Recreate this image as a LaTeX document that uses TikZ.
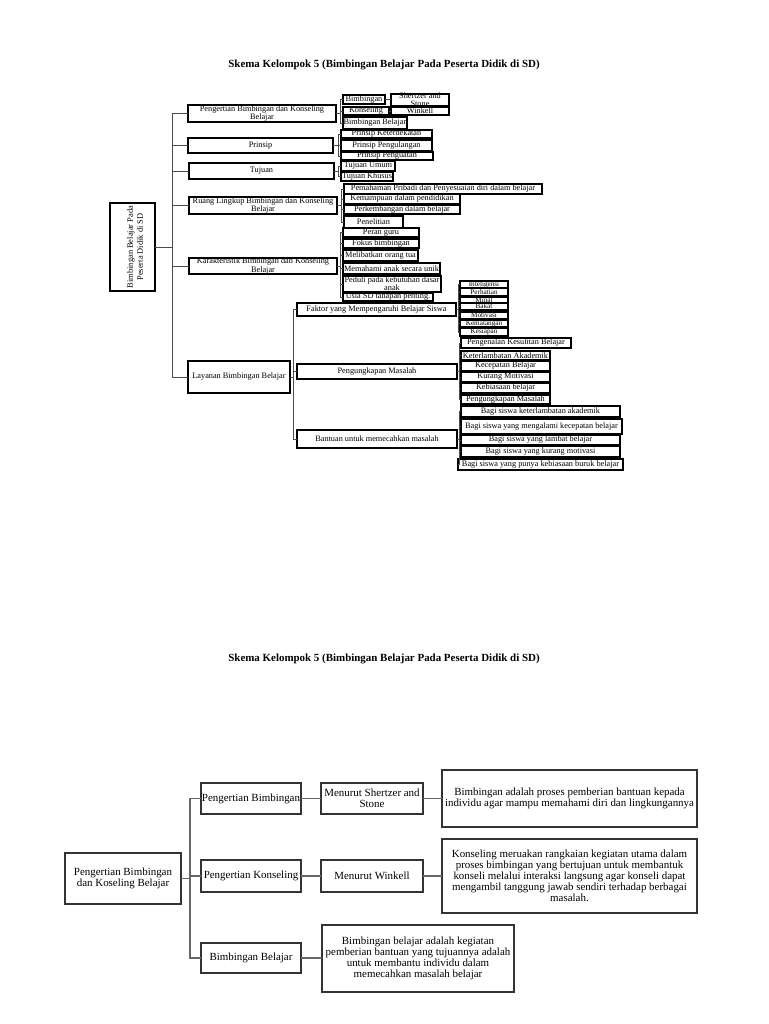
\documentclass[tikz,border=0pt]{standalone}
\usepackage{fontspec}
\setmainfont{Liberation Serif}
\tikzset{
  bxs/.style={draw=black, line width=0.8pt, inner sep=0pt, outer sep=0pt, rectangle},
  txs/.style={inner sep=0pt, align=center, font=\fontsize{6.2}{6.2}\selectfont},
  smalltx/.style={font=\fontsize{5.4}{5.4}\selectfont},
  conn/.style={draw=black!70, line width=0.7pt},
  bigbox/.style={draw=black!80, line width=1pt, inner sep=0pt, outer sep=0pt, rectangle},
  bigtxt/.style={inner sep=0pt, align=center, font=\fontsize{8.2}{8.3}\selectfont},
  bigconn/.style={draw=black!60, line width=0.9pt},
  ttl/.style={inner sep=0pt, font=\fontsize{8.2}{9}\selectfont\bfseries}
}
\newcommand{\mkTop}[7][]{%
  \pgfmathsetmacro{\myW}{(#5-#3)*0.75}%
  \pgfmathsetmacro{\myH}{(#6-#4)*0.75}%
  \node[bxs, minimum width=\myW pt, minimum height=\myH pt] (#2) at ({(#3+#5)/2},{(#4+#6)/2}) {};%
  \node[txs,#1] (#2t) at (#2.center) {#7};%
}
\newcommand{\mkBot}[7][]{%
  \pgfmathsetmacro{\myW}{(#5-#3)*0.75}%
  \pgfmathsetmacro{\myH}{(#6-#4)*0.75}%
  \node[bigbox, minimum width=\myW pt, minimum height=\myH pt] (#2) at ({(#3+#5)/2},{(#4+#6)/2}) {};%
  \node[bigtxt,#1] (#2t) at (#2.center) {#7};%
}
\begin{document}
\begin{tikzpicture}[x=0.75pt, y=-0.75pt]
\fill[white] (0,0) rectangle (768,1024);
\useasboundingbox (0,0) rectangle (768,1024);

% ---------------- titles ----------------
\node[ttl] (title1) at (384,65) {Skema Kelompok 5 (Bimbingan Belajar Pada Peserta Didik di SD)};
\node[ttl] (title2) at (384,659) {Skema Kelompok 5 (Bimbingan Belajar Pada Peserta Didik di SD)};

% ---------------- top diagram ----------------
\node[bxs, minimum width=33.75pt, minimum height=66pt] (r) at (132.5,247) {};
\node[txs, rotate=90, font=\fontsize{6.3}{7.6}\selectfont] (rt) at (135,247) {Bimbingan Belajar Pada\\Peserta Didik di SD};

\mkTop{a1}{188}{105}{336}{122}{Pengertian Bimbingan dan Konseling\\Belajar}
\mkTop{a2}{188}{138}{333}{153}{Prinsip}
\mkTop{a3}{189}{163}{334}{179}{Tujuan}
\mkTop{a4}{189}{197}{337}{214}{Ruang Lingkup Bimbingan dan Konseling\\Belajar}
\mkTop{a5}{189}{258}{337}{274}{Karakteristik Bimbingan dan Konseling\\Belajar}
\mkTop{a6}{188}{361}{290}{393}{Layanan Bimbingan Belajar}

\coordinate (t0) at (172,247);
\draw[conn] (r.east) -- (t0);
\foreach \k in {a1,a2,a3,a4,a5,a6} {\draw[conn] (t0) |- (\k.west);}

% level 2 under a1
\mkTop{b1}{343}{95}{385}{104}{Bimbingan}
\mkTop{b2}{343}{107}{389}{115}{Konseling}
\mkTop{b3}{343}{117}{407}{129}{Bimbingan Belajar}
\mkTop{c1}{391}{94}{449}{106}{Shertzer and\\Stone}
\mkTop{c2}{391}{107}{449}{115}{Winkell}
\draw[conn] (a1.east) -- ++(4,0) coordinate (ka1);
\foreach \k in {b1,b2,b3} {\draw[conn] (ka1) |- (\k.west);}
\draw[conn] (b1.east) -- (b1.east -| c1.west);
\draw[conn] (b2.east) -- (b2.east -| c2.west);

% under a2
\mkTop{b4}{341}{130}{432}{138}{Prinsip Keterdekatan}
\mkTop{b5}{341}{140}{432}{151}{Prinsip Pengulangan}
\mkTop{b6}{341}{152}{433}{160}{Prinsip Penguatan}
\draw[conn] (a2.east) -- ++(5,0) coordinate (ka2);
\foreach \k in {b4,b5,b6} {\draw[conn] (ka2) |- (\k.west);}

% under a3
\mkTop{b7}{341}{161}{395}{171}{Tujuan Umum}
\mkTop{b8}{341}{172}{393}{181}{Tujuan Khusus}
\draw[conn] (a3.east) -- ++(4,0) coordinate (ka3);
\foreach \k in {b7,b8} {\draw[conn] (ka3) |- (\k.west);}

% under a4
\mkTop{b9}{344}{184}{542}{194}{Pemahaman Pribadi dan Penyesuaian diri dalam belajar}
\mkTop{b10}{344}{194}{460}{204}{Kemampuan dalam pendidikan}
\mkTop{b11}{344}{205}{460}{214}{Perkembangan dalam belajar}
\mkTop{b12}{344}{216}{403}{228}{Penelitian}
\draw[conn] (a4.east) -- ++(4,0) coordinate (ka4);
\foreach \k in {b9,b10,b11,b12} {\draw[conn] (ka4) |- (\k.west);}

% under a5
\mkTop{b13}{343}{228}{419}{237}{Peran guru}
\mkTop{b14}{343}{239}{419}{248}{Fokus bimbingan}
\mkTop{b15}{343}{250}{418}{261}{Melibatkan orang tua}
\mkTop{b16}{343}{263}{440}{274}{Memahami anak secara unik}
\mkTop{b17}{343}{276}{441}{292}{Peduli pada kebutuhan dasar\\anak}
\mkTop{b18}{343}{293}{433}{301}{Usia SD tahapan penting.}
\draw[conn] (a5.east) -- ++(3,0) coordinate (ka5);
\foreach \k in {b13,b14,b15,b16,b17,b18} {\draw[conn] (ka5) |- (\k.west);}

% under a6
\mkTop{b19}{297}{303}{456}{316}{Faktor yang Mempengaruhi Belajar Siswa}
\mkTop{b20}{297}{364}{457}{379}{Pengungkapan Masalah}
\mkTop{b21}{297}{430}{457}{448}{Bantuan untuk memecahkan masalah}
\draw[conn] (a6.east) -- ++(3,0) coordinate (ka6);
\foreach \k in {b19,b20,b21} {\draw[conn] (ka6) |- (\k.west);}

% under b19
\mkTop[smalltx]{c3}{460}{281}{508}{288}{Inteligensi}
\mkTop[smalltx]{c4}{460}{288.5}{508}{296}{Perhatian}
\mkTop[smalltx]{c5}{460}{297}{508}{303}{Minat}
\mkTop[smalltx]{c6}{460}{303}{508}{310}{Bakat}
\mkTop[smalltx]{c7}{460}{312}{508}{319}{Motivasi}
\mkTop[smalltx]{c8}{460}{320}{508}{327}{Kematangan}
\mkTop[smalltx]{c9}{460}{328}{508}{336}{Kesiapan}
\draw[conn] (b19.east) -- ++(2,0) coordinate (kb19);
\foreach \k in {c3,c4,c5,c6,c7,c8,c9} {\draw[conn] (kb19) |- (\k.west);}

% under b20
\mkTop{c10}{461}{338}{571}{348}{Pengenalan Kesulitan Belajar}
\mkTop{c11}{461}{351}{550}{360}{Keterlambatan Akademik}
\mkTop{c12}{461}{361}{550}{371}{Kecepatan Belajar}
\mkTop{c13}{461}{372}{550}{382}{Kurang Motivasi}
\mkTop{c14}{461}{383}{550}{393}{Kebiasaan belajar}
\mkTop{c15}{461}{395}{550}{404}{Pengungkapan Masalah}
\draw[conn] (b20.east) -- ++(2,0) coordinate (kb20);
\foreach \k in {c10,c11,c12,c13,c14,c15} {\draw[conn] (kb20) |- (\k.west);}

% under b21
\mkTop{c16}{461}{406}{620}{417}{Bagi siswa keterlambatan akademik}
\mkTop{c17}{461}{419}{622}{434}{Bagi siswa yang mengalami kecepatan belajar}
\mkTop{c18}{461}{435}{620}{445}{Bagi siswa yang lambat belajar}
\mkTop{c19}{461}{446}{620}{457}{Bagi siswa yang kurang motivasi}
\mkTop{c20}{458}{459}{623}{470}{Bagi siswa yang punya kebiasaan buruk belajar}
\draw[conn] (b21.east) -- ++(2,0) coordinate (kb21);
\foreach \k in {c16,c17,c18,c19,c20} {\draw[conn] (kb21) |- (\k.west);}

% ---------------- bottom diagram ----------------
\mkBot{R2}{65}{853}{181}{904}{Pengertian Bimbingan\\dan Koseling Belajar}
\mkBot{d1}{201}{783}{301}{814}{Pengertian Bimbingan}
\mkBot{d2}{201}{860}{301}{892}{Pengertian Konseling}
\mkBot{d3}{201}{943}{301}{973}{Bimbingan Belajar}
\mkBot{e1}{321}{783}{423}{814}{Menurut Shertzer and\\Stone}
\mkBot{e2}{321}{860}{423}{892}{Menurut Winkell}
\mkBot{e3}{322}{925}{514}{992}{Bimbingan belajar adalah kegiatan\\pemberian bantuan yang tujuannya adalah\\untuk membantu individu dalam\\memecahkan masalah belajar}
\mkBot{f1}{442}{770}{697}{827}{Bimbingan adalah proses pemberian bantuan kepada\\individu agar mampu memahami diri dan lingkungannya}
\mkBot{f2}{442}{839}{697}{913}{Konseling meruakan rangkaian kegiatan utama dalam\\proses bimbingan yang bertujuan untuk membantuk\\konseli melalui interaksi langsung agar konseli dapat\\mengambil tanggung jawab sendiri terhadap berbagai\\masalah.}

\coordinate (t2) at (190,878.5);
\draw[bigconn] (R2.east) -- (t2);
\foreach \k in {d1,d2,d3} {\draw[bigconn] (t2) |- (\k.west);}
\draw[bigconn] (d1.east) -- (d1.east -| e1.west);
\draw[bigconn] (d2.east) -- (d2.east -| e2.west);
\draw[bigconn] (d3.east) -- (d3.east -| e3.west);
\draw[bigconn] (e1.east) -- (e1.east -| f1.west);
\draw[bigconn] (e2.east) -- (e2.east -| f2.west);
\end{tikzpicture}
\end{document}
